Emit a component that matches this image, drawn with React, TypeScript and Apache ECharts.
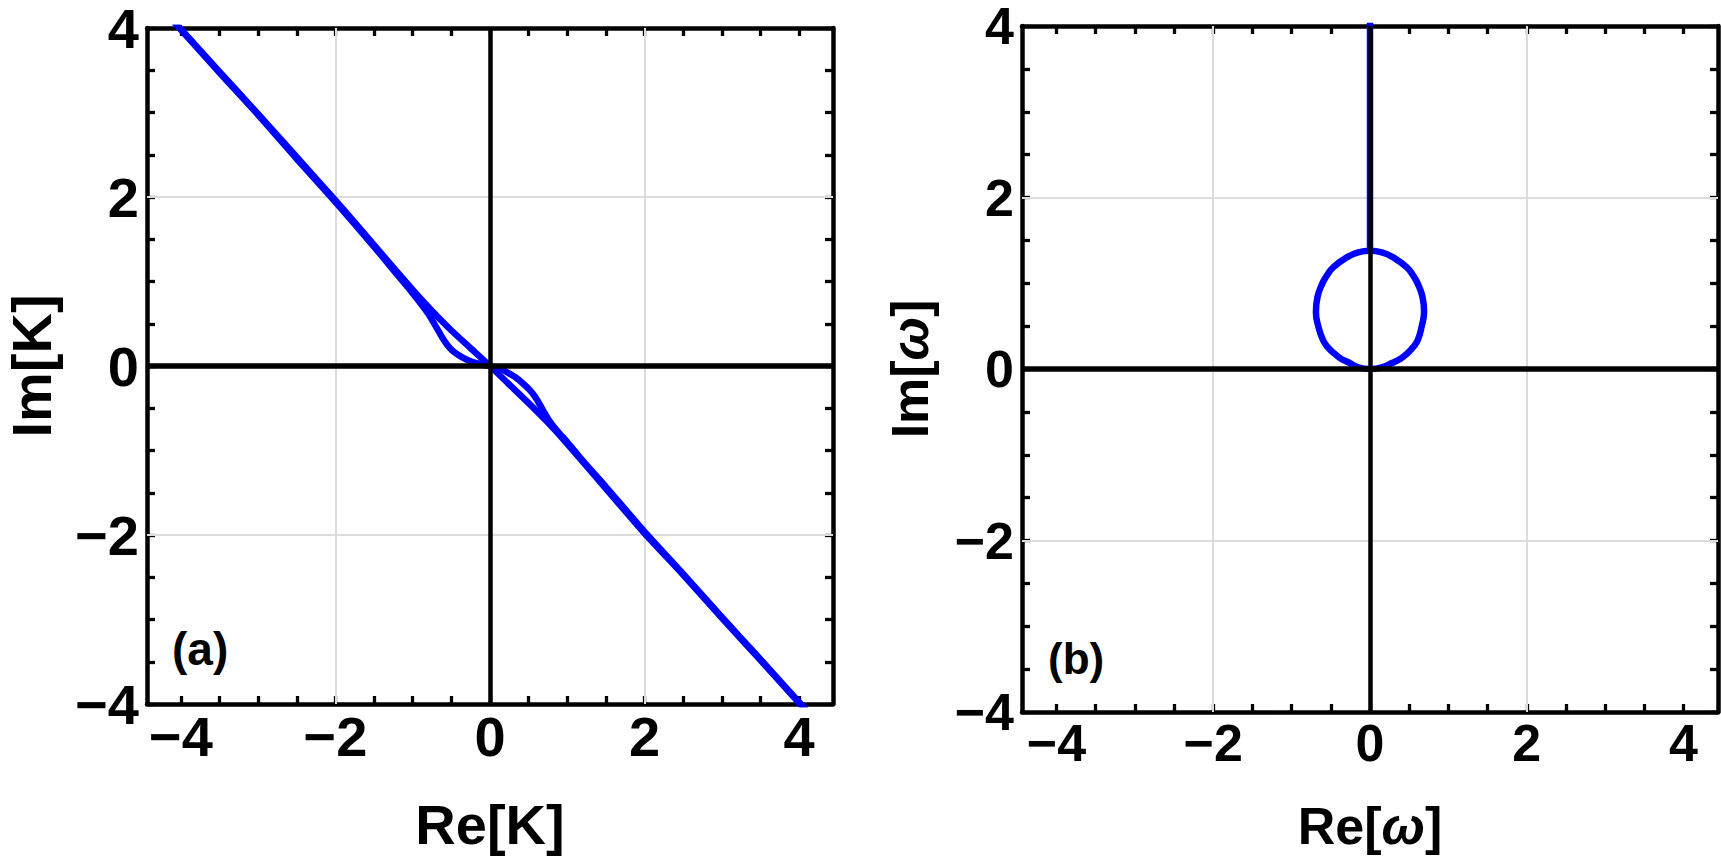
import React, { useEffect, useRef } from 'react';
import * as echarts from 'echarts';

// ---------- data ----------
const TICKS = [-4, -3.5, -3, -2.5, -2, -1.5, -1, -0.5, 0, 0.5, 1, 1.5, 2, 2.5, 3, 3.5, 4];
const LABELS = [-4, -2, 0, 2, 4];
const GRID_LINES = [-2, 2];
const X_RANGE = [-4.44, 4.44];
const Y_RANGE = [-4, 4];

// panel (a): Re[K] vs Im[K], nearly straight branch
const branchA: number[][] = [
  [-4.15, 4.14], [-3.5, 3.48], [-3, 2.98], [-2.5, 2.47], [-2, 1.96], [-1.5, 1.43],
  [-1.0, 0.9], [-0.75, 0.65], [-0.5, 0.42], [-0.25, 0.21], [0, 0],
  [0.25, -0.22], [0.5, -0.44], [0.75, -0.67], [1.0, -0.92], [1.5, -1.45],
  [2, -1.98], [2.5, -2.47], [3, -2.98], [3.5, -3.48], [4.15, -4.14],
];

// panel (a): branch that flattens through the origin
const branchB: number[][] = [
  [-4.15, 4.13], [-3.5, 3.47], [-3, 2.97], [-2.5, 2.45], [-2, 1.94], [-1.5, 1.41],
  [-1.2, 1.08], [-1.0, 0.86], [-0.88, 0.72], [-0.8, 0.62], [-0.74, 0.53], [-0.69, 0.45],
  [-0.645, 0.38], [-0.6, 0.31], [-0.55, 0.245], [-0.5, 0.195], [-0.44, 0.15], [-0.37, 0.108],
  [-0.29, 0.072], [-0.2, 0.04], [-0.1, 0.015], [0, 0],
  [0.1, -0.02], [0.17, -0.05], [0.25, -0.09], [0.34, -0.14], [0.43, -0.21], [0.51, -0.28],
  [0.58, -0.36], [0.64, -0.45], [0.69, -0.53], [0.74, -0.61], [0.8, -0.69], [0.9, -0.8],
  [1.0, -0.9], [1.2, -1.12], [1.5, -1.43], [2, -1.96], [2.5, -2.46], [3, -2.97],
  [3.5, -3.47], [4.15, -4.13],
];

// panel (b): Re[ω] vs Im[ω], closed loop
const omegaLoop: number[][] = [
  [0, 0], [0.15, 0.02], [0.28, 0.07], [0.39, 0.12], [0.48, 0.185], [0.55, 0.255], [0.61, 0.338],
  [0.66, 0.5], [0.69, 0.67], [0.67, 0.84], [0.61, 0.993], [0.55, 1.09], [0.47, 1.185],
  [0.3, 1.3], [0.15, 1.36], [0, 1.378], [-0.15, 1.36], [-0.3, 1.3], [-0.47, 1.185],
  [-0.55, 1.09], [-0.61, 0.993], [-0.67, 0.84], [-0.69, 0.665], [-0.66, 0.5],
  [-0.6, 0.338], [-0.54, 0.255], [-0.46, 0.185], [-0.37, 0.12], [-0.26, 0.07],
  [-0.15, 0.02], [0, 0],
];

// panel (b): purely imaginary branch
const omegaStem: number[][] = [[0, 1.378], [0, 4.2]];

// ---------- styling ----------
const FONT = 'Liberation Sans';
const BLUE = '#0000ff';
const FRAME_W = 4.5;

const fmt = (v: number) => (v < 0 ? `\u2212${-v}` : `${v}`);

function nameStyle(fontSize: number) {
  return {
    fontFamily: FONT, fontWeight: 'bold', fontSize, color: '#000', lineHeight: fontSize,
    rich: { w: { fontFamily: FONT, fontWeight: 'bold', fontStyle: 'italic', fontSize, color: '#000', lineHeight: fontSize } },
  };
}

function makeX(gridIndex: number, position: string, labels: boolean, fontSize: number, name: string, nameGap: number) {
  return {
    type: 'value',
    gridIndex,
    position,
    min: X_RANGE[0],
    max: X_RANGE[1],
    name: labels ? name : '',
    nameLocation: 'middle',
    nameGap,
    nameTextStyle: nameStyle(fontSize),
    axisLine: { show: true, onZero: false, lineStyle: { color: '#000', width: FRAME_W } },
    axisTick: { show: true, inside: true, length: 8, lineStyle: { color: '#000', width: 3.3 }, customValues: TICKS },
    axisLabel: {
      show: labels, customValues: LABELS, formatter: fmt, margin: 10, lineHeight: fontSize * 0.8,
      color: '#000', fontFamily: FONT, fontWeight: 'bold', fontSize,
    },
    splitLine: { show: false },
  };
}

function makeY(gridIndex: number, position: string, labels: boolean, fontSize: number, name: string, nameGap: number) {
  return {
    type: 'value',
    gridIndex,
    position,
    min: Y_RANGE[0],
    max: Y_RANGE[1],
    name: labels ? name : '',
    nameLocation: 'middle',
    nameGap,
    nameTextStyle: nameStyle(fontSize),
    axisLine: { show: true, onZero: false, lineStyle: { color: '#000', width: FRAME_W } },
    axisTick: { show: true, inside: true, length: 8, lineStyle: { color: '#000', width: 3.3 }, customValues: TICKS },
    axisLabel: {
      show: labels, customValues: LABELS, formatter: fmt, margin: 8, lineHeight: 40,
      color: '#000', fontFamily: FONT, fontWeight: 'bold', fontSize,
    },
    splitLine: { show: false },
  };
}

const gridMarks = {
  silent: true,
  z: 1,
  symbol: ['none', 'none'],
  label: { show: false },
  lineStyle: { color: '#dcdcdc', width: 2, type: 'solid' },
  data: [
    ...GRID_LINES.map((v) => ({ xAxis: v })),
    ...GRID_LINES.map((v) => ({ yAxis: v })),
  ],
};

const axisMarks = {
  silent: true,
  z: 10,
  symbol: ['none', 'none'],
  label: { show: false },
  data: [
    { xAxis: 0, lineStyle: { color: '#000', width: 4.5, type: 'solid' } },
    { yAxis: 0, lineStyle: { color: '#000', width: 5.5, type: 'solid' } },
  ],
};

function curve(data: number[][], xi: number, yi: number, smooth: number, markLine?: any) {
  return {
    type: 'line',
    xAxisIndex: xi,
    yAxisIndex: yi,
    data,
    smooth,
    showSymbol: false,
    symbol: 'none',
    silent: true,
    z: 3,
    clip: true,
    lineStyle: { color: BLUE, width: 6.5, cap: 'butt', join: 'round' },
    ...(markLine ? { markLine } : {}),
  };
}

export default function App() {
  const ref = useRef<HTMLDivElement>(null);

  useEffect(() => {
    if (!ref.current) return;
    const chart = echarts.init(ref.current, undefined, { renderer: 'svg' });
    chart.setOption({
      animation: false,
      backgroundColor: '#ffffff',
      grid: [
        { left: 147, top: 22, width: 686, height: 685 },
        { left: 1022, top: 21, width: 696, height: 696 },
      ],
      xAxis: [
        makeX(0, 'bottom', true, 56, 'Re[K]', 92),
        makeX(0, 'top', false, 56, '', 0),
        makeX(1, 'bottom', true, 52, 'Re[{w|ω}]', 88),
        makeX(1, 'top', false, 52, '', 0),
      ],
      yAxis: [
        makeY(0, 'left', true, 56, 'Im[K]', 88),
        makeY(0, 'right', false, 56, '', 0),
        makeY(1, 'left', true, 52, 'Im[{w|ω}]', 86),
        makeY(1, 'right', false, 52, '', 0),
      ],
      graphic: [
        {
          type: 'text', x: 172, y: 649,
          style: { text: '(a)', fontFamily: FONT, fontWeight: 'bold', fontSize: 46, fill: '#000', verticalAlign: 'middle' },
        },
        {
          type: 'text', x: 1048, y: 658,
          style: { text: '(b)', fontFamily: FONT, fontWeight: 'bold', fontSize: 44, fill: '#000', verticalAlign: 'middle' },
        },
      ],
      series: [
        curve(branchA, 0, 0, 0.2, gridMarks),
        curve(branchB, 0, 0, 0.25, axisMarks),
        curve(omegaLoop, 2, 2, 0.5, gridMarks),
        curve(omegaStem, 2, 2, 0, axisMarks),
      ],
    });
    return () => chart.dispose();
  }, []);

  return (
    <div
      ref={ref}
      style={{ position: 'fixed', left: 0, top: 0, width: 1721, height: 857, background: '#fff' }}
    />
  );
}
